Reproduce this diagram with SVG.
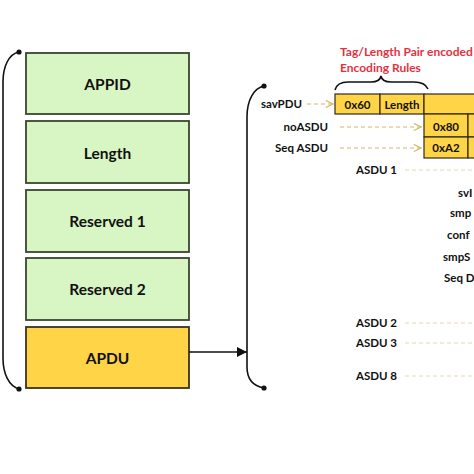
<svg xmlns="http://www.w3.org/2000/svg" width="474" height="474" viewBox="0 0 474 474">
<defs>
<style>
.t{font-family:Lato,"Liberation Sans",sans-serif;font-weight:bold;fill:#111}
.big{font-size:15.5px}
.sm{font-size:11.5px}
.red{font-family:Lato,"Liberation Sans",sans-serif;font-weight:bold;font-size:12px;fill:#E5323F}
.gbox{fill:#D8F5C4;stroke:#3A4630;stroke-width:1.8}
.ybox{fill:#FFD447;stroke:#3A3420;stroke-width:1.8}
.rbox{fill:#FFD447;stroke:#2E2A1E;stroke-width:1.2}
.dash{stroke:#D6B66A;stroke-width:1;stroke-dasharray:4 3;fill:none}
.pale{stroke:#E6D8AC;stroke-width:1;stroke-dasharray:4 3;fill:none}
.br{fill:none;stroke:#111;stroke-width:1.6}
</style>
<marker id="ah" viewBox="0 0 10 10" refX="9" refY="5" markerWidth="9" markerHeight="9" markerUnits="userSpaceOnUse" orient="auto">
<path d="M1,1 L9,5 L1,9" fill="none" stroke="#D6B66A" stroke-width="1.3"/>
</marker>
<marker id="fa" viewBox="0 0 10 10" refX="10" refY="5" markerWidth="14" markerHeight="10" markerUnits="userSpaceOnUse" orient="auto">
<path d="M0,0 L10,5 L0,10 Z" fill="#111"/>
</marker>
</defs>
<rect width="474" height="474" fill="#fff"/>

<g id="appid"><rect class="gbox" x="26" y="53" width="163" height="61"/><text class="t big" x="107.5" y="89.5" text-anchor="middle">APPID</text></g>
<g id="length"><rect class="gbox" x="26" y="121" width="163" height="62"/><text class="t big" x="107.5" y="158.5" text-anchor="middle">Length</text></g>
<g id="reserved1"><rect class="gbox" x="26" y="190" width="163" height="62"/><text class="t big" x="107.5" y="226.5" text-anchor="middle">Reserved 1</text></g>
<g id="reserved2"><rect class="gbox" x="26" y="258" width="163" height="62"/><text class="t big" x="107.5" y="294.5" text-anchor="middle">Reserved 2</text></g>
<g id="apdu"><rect class="ybox" x="26" y="327" width="163" height="61"/><text class="t big" x="107.5" y="363.5" text-anchor="middle">APDU</text></g>

<g id="connectors">
<path class="br" d="M19,52 C9,54 3,66 3,82 L3,358 C3,374 9,386 19,389"/>
<circle cx="19" cy="52" r="2.6" fill="#111"/><circle cx="19" cy="389" r="2.6" fill="#111"/>
<path class="br" d="M264,86 C254,88 247,100 247,117 L247,367 C247,379 253,386 264,388"/>
<circle cx="264" cy="86" r="2.6" fill="#111"/><circle cx="264" cy="388" r="2.6" fill="#111"/>
<line x1="189" y1="352" x2="247" y2="352" stroke="#111" stroke-width="1.4" marker-end="url(#fa)"/>
<path class="br" d="M335,90 Q337,82 348,82 L371,82 Q380,82 381,76 Q382,82 391,82 L414,82 Q425,82 428,89" stroke-width="1.4"/>
<line class="dash" x1="307" y1="104" x2="333" y2="104" marker-end="url(#ah)"/>
<line class="dash" x1="340" y1="127" x2="421" y2="127" marker-end="url(#ah)"/>
<line class="dash" x1="340" y1="148" x2="421" y2="148" marker-end="url(#ah)"/>
<line class="pale" x1="405" y1="170" x2="474" y2="170"/>
<line class="pale" x1="405" y1="323" x2="474" y2="323"/>
<line class="pale" x1="405" y1="343" x2="474" y2="343"/>
<line class="pale" x1="405" y1="376" x2="474" y2="376"/>
</g>

<g id="note"><text class="red" x="340" y="56">Tag/Length Pair encoded</text><text class="red" x="340" y="72">Encoding Rules</text></g>

<g id="savpdu-row">
<rect class="rbox" x="335" y="94" width="45" height="20"/><text class="t sm" x="357.5" y="108.5" text-anchor="middle">0x60</text>
<rect class="rbox" x="380" y="94" width="44" height="20"/><text class="t sm" x="402" y="108.5" text-anchor="middle">Length</text>
<rect class="rbox" x="424" y="94" width="60" height="20"/>
</g>
<g id="noasdu-row">
<rect class="rbox" x="424" y="114" width="44" height="23"/><text class="t sm" x="446" y="130.5" text-anchor="middle">0x80</text>
<rect class="rbox" x="468" y="114" width="20" height="23"/>
</g>
<g id="seqasdu-row">
<rect class="rbox" x="424" y="137" width="44" height="21"/><text class="t sm" x="446" y="151.5" text-anchor="middle">0xA2</text>
<rect class="rbox" x="468" y="137" width="20" height="21"/>
</g>

<g id="labels">
<text class="t sm" x="302" y="108" text-anchor="end">savPDU</text>
<text class="t sm" x="328" y="131" text-anchor="end">noASDU</text>
<text class="t sm" x="328" y="152" text-anchor="end">Seq ASDU</text>
<text class="t sm" x="397" y="174" text-anchor="end">ASDU 1</text>
<text class="t sm" x="397" y="327" text-anchor="end">ASDU 2</text>
<text class="t sm" x="397" y="347" text-anchor="end">ASDU 3</text>
<text class="t sm" x="397" y="380" text-anchor="end">ASDU 8</text>
<text class="t sm" x="458" y="197">svI</text>
<text class="t sm" x="450" y="217">smp</text>
<text class="t sm" x="447" y="239">conf</text>
<text class="t sm" x="443" y="261">smpS</text>
<text class="t sm" x="444" y="282">Seq D</text>
</g>
</svg>
